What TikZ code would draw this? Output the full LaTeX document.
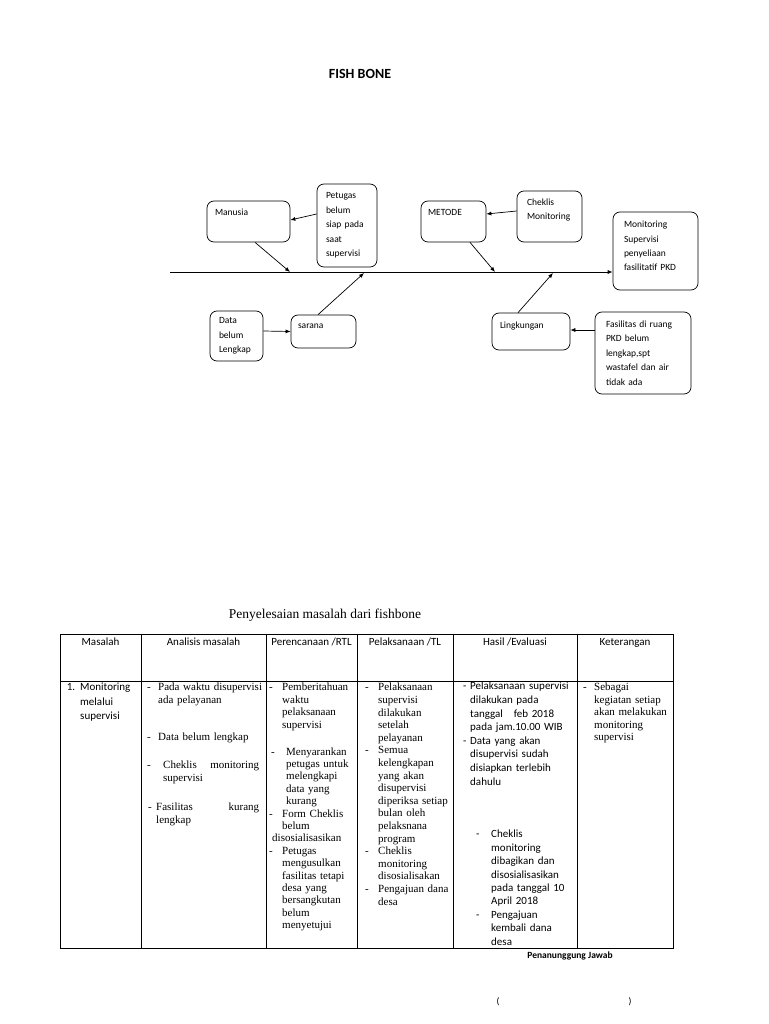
\documentclass[tikz,border=0pt]{standalone}
\usepackage{fontspec}
\usetikzlibrary{positioning, arrows.meta, calc}
\newfontfamily\calib{Carlito}
\newfontfamily\tnr{Liberation Serif}
\newcommand{\dashat}[1]{\leavevmode\llap{\makebox[#1][l]{-}}}
\tikzset{
	fbox/.style={draw, line width=0.7pt, rounded corners=7pt, align=left,
		inner xsep=0pt, inner ysep=0pt, font=\calib\fontsize{9.5}{14.5}\selectfont},
	bone/.style={-{Latex[length=5pt,width=4pt]}, line width=0.7pt},
	headcell/.style={anchor=base, inner sep=0pt, font=\calib\fontsize{11}{13}\selectfont},
	serifcell/.style={anchor=north west, inner sep=0pt, align=left, font=\tnr\fontsize{11}{12.5}\selectfont},
	sanscell/.style={anchor=north west, inner sep=0pt, align=left, font=\calib\fontsize{11}{13.6}\selectfont},
	tablerule/.style={line width=0.9pt}
}

\begin{document}
\begin{tikzpicture}[x=1pt, y=-1pt]
	\useasboundingbox (0,0) rectangle (768,1024);
	\node[font=\calib\bfseries\fontsize{14}{16}\selectfont] (title) at (360,74) {FISH BONE};

	% fishbone boxes
	\node[fbox, minimum width=83pt, minimum height=41pt, text width=67pt, text height=15pt, text depth=26pt] (manusia) at (248.5,221.5) {Manusia};
	\node[fbox, minimum width=60pt, minimum height=83pt, text width=42pt] (petugas) at (347,225.5) {Petugas\\belum\\siap pada\\saat\\supervisi};
	\node[fbox, minimum width=65pt, minimum height=41pt, text width=51pt, text height=14pt, text depth=27pt] (metode) at (453.5,221.5) {METODE};
	\node[fbox, minimum width=65pt, minimum height=51pt, text width=45pt, text height=14.5pt, text depth=36.5pt] (cheklis) at (549.5,216.5) {Cheklis\\Monitoring};
	\node[fbox, minimum width=85pt, minimum height=78pt, text width=63pt, text height=15.5pt, text depth=62.5pt] (mon) at (655.5,251) {Monitoring\\Supervisi\\penyeliaan\\fasilitatif PKD};
	\node[fbox, minimum width=53pt, minimum height=50pt, text width=35pt] (data) at (236.5,336) {Data\\belum\\Lengkap};
	\node[fbox, minimum width=65pt, minimum height=33pt, text width=51pt, text height=13pt, text depth=20pt] (sarana) at (323.5,331.5) {sarana};
	\node[fbox, minimum width=78pt, minimum height=37pt, text width=62pt, text height=15pt, text depth=22pt] (lingk) at (531,331.5) {Lingkungan};
	\node[fbox, minimum width=96pt, minimum height=82pt, text width=74pt] (fas) at (643,353) {Fasilitas di ruang\\PKD belum\\lengkap,spt\\wastafel dan air\\tidak ada};

	% spine and bones
	\coordinate (spineL) at (170,272);
	\coordinate (jManusia) at (290,272);
	\coordinate (jMetode) at (495,272);
	\coordinate (jSarana) at (364,273);
	\coordinate (jLingk) at (553,273);
	\draw[bone] (spineL) -- (spineL -| mon.west);
	\draw[bone] ([xshift=6.5pt]manusia.south) -- (jManusia);
	\draw[bone] ([xshift=16.5pt]metode.south) -- (jMetode);
	\draw[bone] ([xshift=-5.5pt]sarana.north) -- (jSarana);
	\draw[bone] ([xshift=-13pt]lingk.north) -- (jLingk);
	\draw[bone] ([yshift=11.5pt]petugas.west) -- ([yshift=1.5pt]manusia.east);
	\draw[bone] ([yshift=5.5pt]cheklis.west) -- ([yshift=7.5pt]metode.east);
	\draw[bone] ([yshift=5pt]data.east) -- (sarana.west);
	\draw[bone] ([yshift=23pt]fas.west) -- ([yshift=1.5pt]lingk.east);

	% table
	\node[font=\tnr\fontsize{13.5}{16}\selectfont] (tabtitle) at (325,615) {Penyelesaian masalah dari fishbone};
	\draw[tablerule] (60,634) rectangle (673,948);
	\draw[tablerule] (60,681) -- (673,681);
	\foreach \cx in {141,266,357,453,577}
		\draw[tablerule] (\cx,634) -- (\cx,948);

	\node[headcell] (hMasalah) at (100.5,645) {Masalah};
	\node[headcell] (hAnalisis) at (203.5,645) {Analisis masalah};
	\node[headcell] (hRtl) at (311.5,645) {Perencanaan /RTL};
	\node[headcell] (hTl) at (405,645) {Pelaksanaan /TL};
	\node[headcell] (hHasil) at (515,645) {Hasil /Evaluasi};
	\node[headcell] (hKet) at (625,645) {Keterangan};

	\node[sanscell, text width=58pt, font=\calib\fontsize{11}{14.5}\selectfont] (masalah) at (80,683) {\llap{1.\hspace{5pt}}Monitoring\\melalui\\supervisi};

	\node[serifcell, text width=105pt] (an1) at (158,683) {\dashat{11pt}Pada waktu disupervisi\\ada pelayanan};
	\node[serifcell, text width=100pt] (an2) at (158,733) {\dashat{11pt}Data belum lengkap};
	\node[serifcell, text width=96pt] (an3) at (163,761) {\dashat{16pt}Cheklis\hfill monitoring\\supervisi};
	\node[serifcell, text width=103pt] (an4) at (156,803) {\dashat{8pt}Fasilitas\hfill kurang\\lengkap};

	\node[serifcell, text width=75pt, font=\tnr\fontsize{11}{12.4}\selectfont] (rtl) at (282,683)
		{\dashat{13pt}Pemberitahuan\\waktu\\pelaksanaan\\supervisi\\[14.6pt]
		\hspace*{4pt}\dashat{15pt}Menyarankan\\\hspace*{4pt}petugas untuk\\\hspace*{4pt}melengkapi\\\hspace*{4pt}data yang\\\hspace*{4pt}kurang\\
		\dashat{13pt}Form Cheklis\\belum\\\hspace*{-10pt}disosialisasikan\\
		\dashat{13pt}Petugas\\mengusulkan\\fasilitas tetapi\\desa yang\\bersangkutan\\belum\\menyetujui};

	\node[serifcell, text width=74pt, font=\tnr\fontsize{11}{12.6}\selectfont] (tl) at (378,683)
		{\dashat{13pt}Pelaksanaan\\supervisi\\dilakukan\\setelah\\pelayanan\\
		\dashat{13pt}Semua\\kelengkapan\\yang akan\\disupervisi\\diperiksa setiap\\bulan oleh\\pelaksnana\\program\\
		\dashat{13pt}Cheklis\\monitoring\\disosialisakan\\
		\dashat{13pt}Pengajuan dana\\desa};

	\node[sanscell, text width=105pt] (hasil1) at (470,682)
		{\dashat{7pt}Pelaksanaan supervisi\\dilakukan pada\\tanggal\quad feb 2018\\pada jam.10.00 WIB\\
		\dashat{7pt}Data yang akan\\disupervisi sudah\\disiapkan terlebih\\dahulu};
	\node[sanscell, text width=84pt, font=\calib\fontsize{11}{13.4}\selectfont] (hasil2) at (491,830)
		{\dashat{15pt}Cheklis\\monitoring\\dibagikan dan\\disosialisasikan\\pada tanggal 10\\April 2018\\
		\dashat{15pt}Pengajuan\\kembali dana\\desa};

	\node[serifcell, text width=77pt] (ket) at (594,683) {\dashat{11pt}Sebagai\\kegiatan setiap\\akan melakukan\\monitoring\\supervisi};

	% signature
	\node[font=\calib\bfseries\fontsize{9.5}{11}\selectfont] (pj) at (570,956) {Penanunggung Jawab};
	\node[font=\calib\fontsize{9.5}{11}\selectfont] (parL) at (498,1002) {(};
	\node[font=\calib\fontsize{9.5}{11}\selectfont] (parR) at (630,1002) {)};
\end{tikzpicture}
\end{document}
